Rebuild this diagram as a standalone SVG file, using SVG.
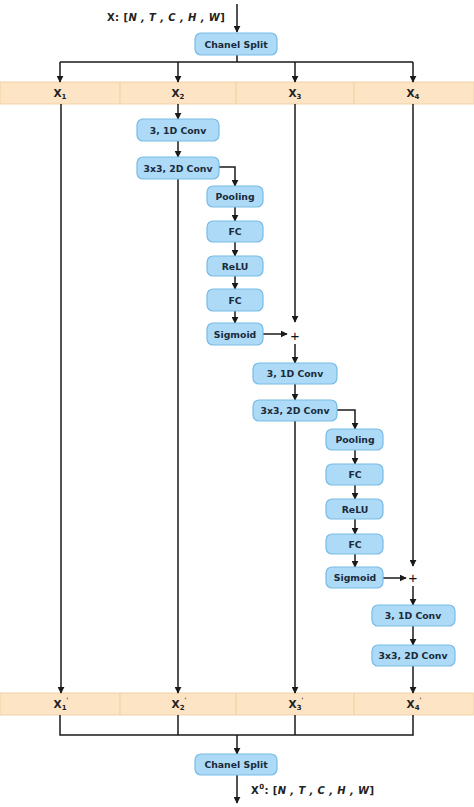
<svg xmlns="http://www.w3.org/2000/svg" width="474" height="807" viewBox="0 0 474 807">
<style>
.box{fill:#addaf6;stroke:#78bbe6;stroke-width:1.2}
.band{fill:#fce4c5;stroke:#f3d2a6;stroke-width:1}
.div{stroke:#f0cfa3;stroke-width:1}
.t{font-family:"DejaVu Sans",sans-serif;font-weight:bold;font-size:9.3px;fill:#1a2a3a;text-anchor:middle}
.x{font-family:"DejaVu Sans",sans-serif;font-weight:bold;font-size:10.5px;fill:#222;text-anchor:middle}
.lab{font-family:"DejaVu Sans",sans-serif;font-weight:bold;font-size:10px;fill:#222;letter-spacing:0.4px}
.ln{stroke:#1a1a1a;stroke-width:1.5;fill:none}
.plus{font-family:"Liberation Sans",sans-serif;font-size:15px;fill:#111;text-anchor:middle}
</style>
<defs>
<marker id="ah" viewBox="0 0 10 10" refX="9" refY="5" markerWidth="7" markerHeight="7" markerUnits="userSpaceOnUse" orient="auto">
<path d="M0,0 L10,5 L0,10 z" fill="#1a1a1a"/>
</marker>
</defs>
<rect width="474" height="807" fill="#ffffff"/>

<g id="bands">
<g id="band-top">
<rect class="band" x="0" y="82" width="474" height="22"/>
<line class="div" x1="120" y1="82" x2="120" y2="104"/>
<line class="div" x1="236" y1="82" x2="236" y2="104"/>
<line class="div" x1="354" y1="82" x2="354" y2="104"/>
<text class="x" x="60" y="97">X<tspan font-size="7" dy="2">1</tspan></text>
<text class="x" x="178" y="97">X<tspan font-size="7" dy="2">2</tspan></text>
<text class="x" x="295" y="97">X<tspan font-size="7" dy="2">3</tspan></text>
<text class="x" x="413" y="97">X<tspan font-size="7" dy="2">4</tspan></text>
</g>
<g id="band-bottom">
<rect class="band" x="0" y="693" width="474" height="22"/>
<line class="div" x1="120" y1="693" x2="120" y2="715"/>
<line class="div" x1="236" y1="693" x2="236" y2="715"/>
<line class="div" x1="354" y1="693" x2="354" y2="715"/>
<text class="x" x="61" y="708">X<tspan font-size="7" dy="2">1</tspan><tspan font-size="6" dy="-8">'</tspan></text>
<text class="x" x="179" y="708">X<tspan font-size="7" dy="2">2</tspan><tspan font-size="6" dy="-8">'</tspan></text>
<text class="x" x="296" y="708">X<tspan font-size="7" dy="2">3</tspan><tspan font-size="6" dy="-8">'</tspan></text>
<text class="x" x="414" y="708">X<tspan font-size="7" dy="2">4</tspan><tspan font-size="6" dy="-8">'</tspan></text>
</g>
</g>

<g id="connectors">
<line class="ln" x1="237" y1="4" x2="237" y2="32" marker-end="url(#ah)"/>
<path class="ln" d="M237,55 V62 M60,62 H413"/>
<line class="ln" x1="60" y1="62" x2="60" y2="82" marker-end="url(#ah)"/>
<line class="ln" x1="178" y1="62" x2="178" y2="82" marker-end="url(#ah)"/>
<line class="ln" x1="295" y1="62" x2="295" y2="82" marker-end="url(#ah)"/>
<line class="ln" x1="413" y1="62" x2="413" y2="82" marker-end="url(#ah)"/>
<!-- column 1 -->
<line class="ln" x1="61" y1="104" x2="61" y2="693" marker-end="url(#ah)"/>
<!-- column 2 -->
<line class="ln" x1="178" y1="104" x2="178" y2="119" marker-end="url(#ah)"/>
<line class="ln" x1="178" y1="141" x2="178" y2="157" marker-end="url(#ah)"/>
<line class="ln" x1="178" y1="179" x2="178" y2="693" marker-end="url(#ah)"/>
<path class="ln" d="M219,167 H235 V186" marker-end="url(#ah)"/>
<line class="ln" x1="235" y1="207" x2="235" y2="221" marker-end="url(#ah)"/>
<line class="ln" x1="235" y1="242" x2="235" y2="256" marker-end="url(#ah)"/>
<line class="ln" x1="235" y1="276" x2="235" y2="289" marker-end="url(#ah)"/>
<line class="ln" x1="235" y1="311" x2="235" y2="323" marker-end="url(#ah)"/>
<line class="ln" x1="263" y1="334" x2="287" y2="334" marker-end="url(#ah)"/>
<!-- column 3 -->
<line class="ln" x1="295" y1="104" x2="295" y2="322" marker-end="url(#ah)"/>
<line class="ln" x1="295" y1="344" x2="295" y2="363" marker-end="url(#ah)"/>
<line class="ln" x1="295" y1="384" x2="295" y2="400" marker-end="url(#ah)"/>
<line class="ln" x1="295" y1="421" x2="295" y2="693" marker-end="url(#ah)"/>
<path class="ln" d="M337,410 H355 V429" marker-end="url(#ah)"/>
<line class="ln" x1="355" y1="450" x2="355" y2="464" marker-end="url(#ah)"/>
<line class="ln" x1="355" y1="485" x2="355" y2="499" marker-end="url(#ah)"/>
<line class="ln" x1="355" y1="519" x2="355" y2="534" marker-end="url(#ah)"/>
<line class="ln" x1="355" y1="554" x2="355" y2="567" marker-end="url(#ah)"/>
<line class="ln" x1="383" y1="578" x2="406" y2="578" marker-end="url(#ah)"/>
<!-- column 4 -->
<line class="ln" x1="413" y1="104" x2="413" y2="566" marker-end="url(#ah)"/>
<line class="ln" x1="413" y1="586" x2="413" y2="605" marker-end="url(#ah)"/>
<line class="ln" x1="413" y1="626" x2="413" y2="645" marker-end="url(#ah)"/>
<line class="ln" x1="413" y1="666" x2="413" y2="693" marker-end="url(#ah)"/>
<!-- merge -->
<path class="ln" d="M60,715 V735 H413 V715 M178,715 V735 M295,715 V735"/>
<line class="ln" x1="237" y1="735" x2="237" y2="754" marker-end="url(#ah)"/>
<line class="ln" x1="237" y1="775" x2="237" y2="803" marker-end="url(#ah)"/>
</g>

<g id="input-label"><text class="lab" x="107" y="21">X:  [<tspan font-style="italic">N , T , C , H , W</tspan>]</text></g>
<g id="split-top"><rect class="box" x="195" y="33" width="82" height="22" rx="6"/><text class="t" x="236" y="47.5">Chanel Split</text></g>

<g id="conv1d-a"><rect class="box" x="137" y="119" width="82" height="22" rx="6"/><text class="t" x="178" y="133.5">3, 1D Conv</text></g>
<g id="conv2d-a"><rect class="box" x="137" y="157" width="82" height="22" rx="6"/><text class="t" x="178" y="171.5">3x3, 2D Conv</text></g>
<g id="pool-a"><rect class="box" x="207" y="186" width="56" height="21" rx="6"/><text class="t" x="235" y="200">Pooling</text></g>
<g id="fc1-a"><rect class="box" x="207" y="221" width="56" height="21" rx="6"/><text class="t" x="235" y="235">FC</text></g>
<g id="relu-a"><rect class="box" x="207" y="256" width="56" height="20" rx="6"/><text class="t" x="235" y="269.5">ReLU</text></g>
<g id="fc2-a"><rect class="box" x="207" y="289" width="56" height="22" rx="6"/><text class="t" x="235" y="303.5">FC</text></g>
<g id="sig-a"><rect class="box" x="207" y="323" width="56" height="22" rx="6"/><text class="t" x="235" y="337.5">Sigmoid</text></g>
<g id="plus-a"><text class="plus" x="295" y="341">+</text></g>

<g id="conv1d-b"><rect class="box" x="253" y="363" width="84" height="21" rx="6"/><text class="t" x="295" y="377">3, 1D Conv</text></g>
<g id="conv2d-b"><rect class="box" x="253" y="400" width="84" height="21" rx="6"/><text class="t" x="295" y="414">3x3, 2D Conv</text></g>
<g id="pool-b"><rect class="box" x="326" y="429" width="57" height="21" rx="6"/><text class="t" x="355" y="443">Pooling</text></g>
<g id="fc1-b"><rect class="box" x="326" y="464" width="57" height="21" rx="6"/><text class="t" x="355" y="478">FC</text></g>
<g id="relu-b"><rect class="box" x="326" y="499" width="57" height="20" rx="6"/><text class="t" x="355" y="512.5">ReLU</text></g>
<g id="fc2-b"><rect class="box" x="326" y="534" width="57" height="20" rx="6"/><text class="t" x="355" y="547.5">FC</text></g>
<g id="sig-b"><rect class="box" x="326" y="567" width="57" height="21" rx="6"/><text class="t" x="355" y="581">Sigmoid</text></g>
<g id="plus-b"><text class="plus" x="413" y="583">+</text></g>

<g id="conv1d-c"><rect class="box" x="372" y="605" width="83" height="21" rx="6"/><text class="t" x="413" y="619">3, 1D Conv</text></g>
<g id="conv2d-c"><rect class="box" x="372" y="645" width="83" height="21" rx="6"/><text class="t" x="413" y="659">3x3, 2D Conv</text></g>

<g id="split-bottom"><rect class="box" x="195" y="754" width="82" height="21" rx="6"/><text class="t" x="236" y="768">Chanel Split</text></g>
<g id="output-label"><text class="lab" x="251" y="794">X<tspan font-size="7" dy="-5">0</tspan><tspan dy="5">:  [</tspan><tspan font-style="italic">N , T , C , H , W</tspan>]</text></g>
</svg>
